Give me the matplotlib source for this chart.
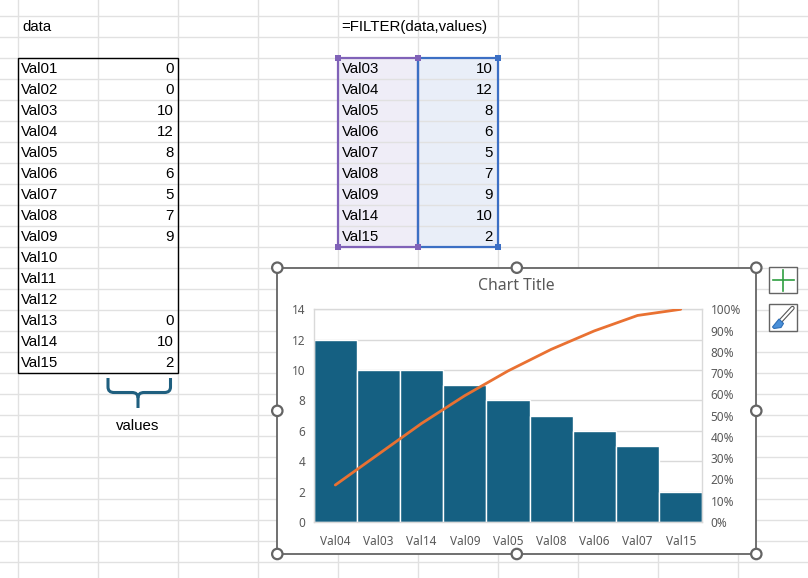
import numpy as np
import matplotlib
matplotlib.use('Agg')
from matplotlib import pyplot as plt
from matplotlib.patches import Rectangle, Circle, PathPatch, Polygon
from matplotlib.path import Path
from matplotlib.ticker import PercentFormatter

# sheet contents
data_names = ['Val01', 'Val02', 'Val03', 'Val04', 'Val05', 'Val06', 'Val07', 'Val08',
              'Val09', 'Val10', 'Val11', 'Val12', 'Val13', 'Val14', 'Val15']
data_values = [0, 0, 10, 12, 8, 6, 5, 7, 9, None, None, None, 0, 10, 2]
filter_names = ['Val03', 'Val04', 'Val05', 'Val06', 'Val07', 'Val08', 'Val09', 'Val14', 'Val15']
filter_values = [10, 12, 8, 6, 5, 7, 9, 10, 2]
left_ticks = [0, 2, 4, 6, 8, 10, 12, 14]
right_ticks = [0, 10, 20, 30, 40, 50, 60, 70, 80, 90, 100]

# pareto order, as excel does it
order = sorted(range(len(filter_values)), key=lambda i: -filter_values[i])
pareto_names = [filter_names[i] for i in order]
pareto_values = [filter_values[i] for i in order]
cum_pct = np.cumsum(pareto_values) / np.sum(pareto_values) * 100

W, H = 808, 578
BAR = '#156082'
LINE = '#E97132'
GREY_TXT = '#595959'
CELL_FONT = 'Liberation Sans'
CHART_FONT = 'Noto Sans'

col_x = [17.7 + 80 * k for k in range(10)]
row_y = [15.7 + 21 * k for k in range(27)]

def rowc(r):
    # vertical centre of sheet row r (row 0 = the one holding "data")
    return row_y[r] + 10.5 + 0.8

fig = plt.figure(figsize=(W / 100, H / 100), dpi=100)
sheet = fig.add_axes([0, 0, 1, 1])
sheet.set_xlim(0, W)
sheet.set_ylim(H, 0)
sheet.axis('off')

# spill range shading (under the grid)
sheet.add_patch(Rectangle((col_x[4], row_y[2]), 80, 189, facecolor='#efedf7', edgecolor='none', zorder=0))
sheet.add_patch(Rectangle((col_x[5], row_y[2]), 80, 189, facecolor='#e9eef8', edgecolor='none', zorder=0))

# grid
for x in col_x:
    sheet.plot([x, x], [0, H], color='#e1e1e1', lw=1, zorder=1)
for y in row_y:
    sheet.plot([0, W], [y, y], color='#e1e1e1', lw=1, zorder=1)

# data block
sheet.text(22, rowc(0), 'data', fontsize=10.8, family=CELL_FONT, va='center', ha='left')
sheet.add_patch(Rectangle((col_x[0], row_y[2]), 160, 21 * 15, facecolor='none',
                          edgecolor='black', lw=1, zorder=3))
for i, (n, v) in enumerate(zip(data_names, data_values)):
    y = rowc(2 + i)
    sheet.text(21, y, n, fontsize=10.8, family=CELL_FONT, va='center', ha='left', zorder=4)
    if v is not None:
        sheet.text(173.5, y, str(v), fontsize=10.8, family=CELL_FONT, va='center', ha='right', zorder=4)

# curly brace + label
brace_c = '#1f5f7f'
left_half = Path([(108, 378), (108, 387), (108, 392.5), (114, 392.5), (132, 392.5),
                  (138, 392.5), (138, 398), (138, 408)],
                 [Path.MOVETO, Path.LINETO, Path.CURVE3, Path.CURVE3, Path.LINETO,
                  Path.CURVE3, Path.CURVE3, Path.LINETO])
right_half = Path([(170.5, 378), (170.5, 387), (170.5, 392.5), (164.5, 392.5), (144, 392.5),
                   (138, 392.5), (138, 398)],
                  [Path.MOVETO, Path.LINETO, Path.CURVE3, Path.CURVE3, Path.LINETO,
                   Path.CURVE3, Path.CURVE3])
for p in (left_half, right_half):
    sheet.add_patch(PathPatch(p, facecolor='none', edgecolor=brace_c, lw=2.2, capstyle='butt', zorder=3))
sheet.text(137.5, rowc(19), 'values', fontsize=10.8, family=CELL_FONT, va='center', ha='center')

# FILTER spill
sheet.text(341.5, rowc(0), '=FILTER(data,values)', fontsize=10.8, family=CELL_FONT, va='center', ha='left')
for i, (n, v) in enumerate(zip(filter_names, filter_values)):
    y = rowc(2 + i)
    sheet.text(341.5, y, n, fontsize=10.8, family=CELL_FONT, va='center', ha='left', zorder=4)
    sheet.text(493, y, str(v), fontsize=10.8, family=CELL_FONT, va='center', ha='right', zorder=4)
purple, blue = '#8062b8', '#3c6fc4'
sheet.add_patch(Rectangle((col_x[4], row_y[2]), 80, 189, facecolor='none', edgecolor=purple, lw=1.6, zorder=3))
sheet.add_patch(Rectangle((col_x[5], row_y[2]), 80, 189, facecolor='none', edgecolor=blue, lw=1.6, zorder=3))
for (hx, hy, c) in [(col_x[4], row_y[2], purple), (col_x[5], row_y[2], purple),
                    (col_x[4], row_y[11], purple), (col_x[5], row_y[11], purple),
                    (col_x[6], row_y[2], blue), (col_x[6], row_y[11], blue)]:
    sheet.add_patch(Rectangle((hx - 3, hy - 3), 6, 6, facecolor=c, edgecolor='none', zorder=4))

# chart frame
cx0, cx1, cy0, cy1 = 277.3, 756.3, 267.7, 554.0
sheet.add_patch(Rectangle((cx0, cy0), cx1 - cx0, cy1 - cy0, facecolor='white',
                          edgecolor='#646464', lw=1.3, zorder=5))
cmx, cmy = (cx0 + cx1) / 2, (cy0 + cy1) / 2
for hx, hy in [(cx0, cy0), (cmx, cy0), (cx1, cy0), (cx0, cmy), (cx1, cmy),
               (cx0, cy1), (cmx, cy1), (cx1, cy1)]:
    sheet.add_patch(Circle((hx, hy), 5.2, facecolor='white', edgecolor='#646464', lw=1.6, zorder=6))
sheet.text(cmx, 285.5, 'Chart Title', fontsize=11.3, family=CHART_FONT, color=GREY_TXT,
           ha='center', va='center', zorder=6)

# side buttons
sheet.add_patch(Rectangle((769.3, 266.7), 27.4, 26.6, facecolor='white', edgecolor='#646464', lw=1, zorder=5))
sheet.plot([772.5, 793.5], [280, 280], color='#2f9e41', lw=1.2, zorder=6)
sheet.plot([783, 783], [270, 290.5], color='#2f9e41', lw=1.2, zorder=6)
sheet.add_patch(Rectangle((769.3, 304.3), 27.4, 27, facecolor='white', edgecolor='#646464', lw=1, zorder=5))
sheet.plot([792.5, 780.5], [308, 321], color='#555555', lw=3.2, solid_capstyle='round', zorder=6)
sheet.plot([792.5, 780.5], [308, 321], color='white', lw=1.6, solid_capstyle='round', zorder=6)
sheet.add_patch(Polygon([(779, 319), (783.5, 323.5), (781, 327.5), (774, 328.5), (772.5, 327)],
                        closed=True, facecolor='#4a90d9', edgecolor='#2f6fb6', lw=0.8, zorder=7))

# the chart itself
px0, px1, py_top, py_bot = 313.7, 702.3, 309.3, 522.0
ax = fig.add_axes([px0 / W, (H - py_bot) / H, (px1 - px0) / W, (py_bot - py_top) / H])
ax.set_zorder(2)
ax.patch.set_alpha(0)
x = np.arange(len(pareto_names))
ax.bar(x, pareto_values, width=1.0, color=BAR, edgecolor='white', lw=1, zorder=2)
ax.set_xlim(-0.5, len(pareto_names) - 0.5)
ax.set_ylim(0, 14)
ax.set_yticks(left_ticks)
ax.set_xticks(x)
ax.set_xticklabels(pareto_names)
ax.yaxis.grid(True, color='#d9d9d9', lw=1)
ax.set_axisbelow(True)
for s in ax.spines.values():
    s.set_color('#d9d9d9')
    s.set_linewidth(1)
ax.tick_params(axis='both', length=0, colors=GREY_TXT, labelsize=8.5)
ax.tick_params(axis='y', pad=6)
ax.tick_params(axis='x', pad=9.5)
for lab in ax.get_xticklabels() + ax.get_yticklabels():
    lab.set_family(CHART_FONT)

ax2 = ax.twinx()
ax2.plot(x, cum_pct, color=LINE, lw=2, solid_capstyle='round', zorder=3)
ax2.set_ylim(0, 100)
ax2.set_yticks(right_ticks)
ax2.yaxis.set_major_formatter(PercentFormatter(decimals=0))
ax2.tick_params(axis='y', length=0, colors=GREY_TXT, labelsize=8.5, pad=6)
for s in ax2.spines.values():
    s.set_visible(False)
for lab in ax2.get_yticklabels():
    lab.set_family(CHART_FONT)

fig.savefig('out.png', dpi=100)
